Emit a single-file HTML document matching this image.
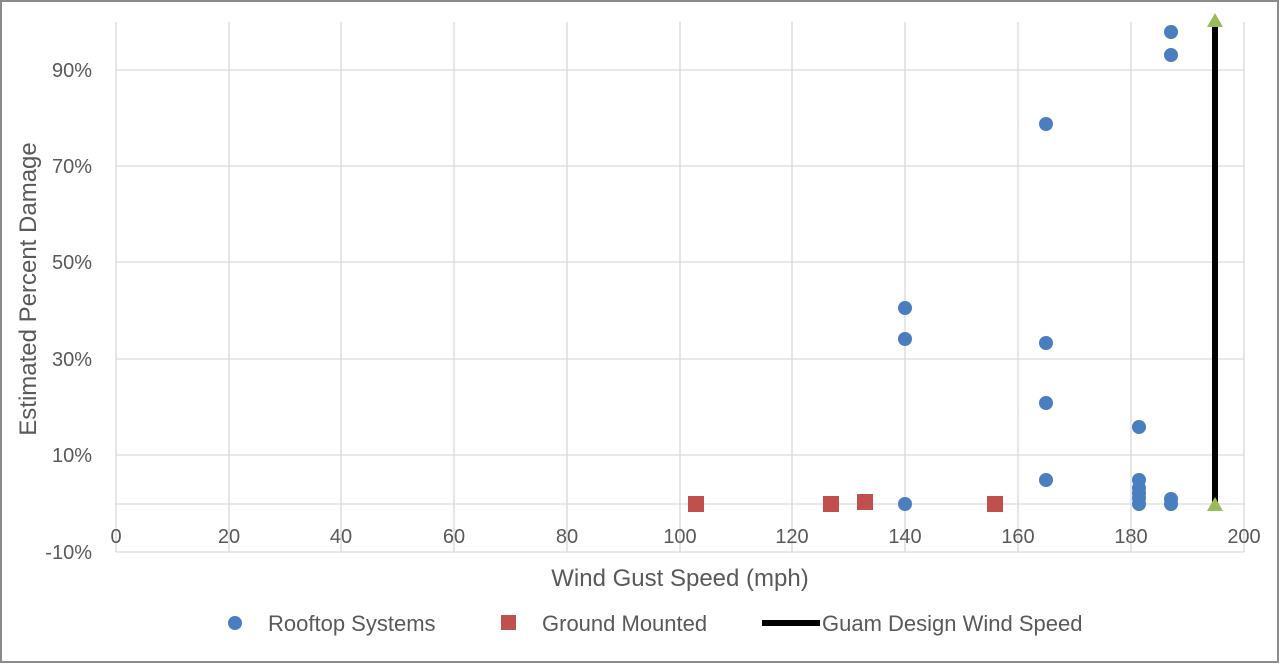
<!DOCTYPE html><html><head><style>body{margin:0;background:#fff}svg{display:block}text{font-family:"Liberation Sans",sans-serif;fill:#595959}</style></head><body>
<svg width="1280" height="664" viewBox="0 0 1280 664">
<rect x="1" y="1" width="1277" height="661" fill="#fff" stroke="#8c8c8c" stroke-width="2"/>
<g stroke="#d9d9d9" stroke-width="1.3">
<line x1="116" y1="70" x2="1244" y2="70"/><line x1="116" y1="166" x2="1244" y2="166"/><line x1="116" y1="262" x2="1244" y2="262"/><line x1="116" y1="359" x2="1244" y2="359"/><line x1="116" y1="455" x2="1244" y2="455"/><line x1="116" y1="504" x2="1244" y2="504"/><line x1="116" y1="552" x2="1244" y2="552"/>
<line x1="116" y1="22" x2="116" y2="552"/><line x1="229" y1="22" x2="229" y2="552"/><line x1="341" y1="22" x2="341" y2="552"/><line x1="454" y1="22" x2="454" y2="552"/><line x1="567" y1="22" x2="567" y2="552"/><line x1="680" y1="22" x2="680" y2="552"/><line x1="792" y1="22" x2="792" y2="552"/><line x1="905" y1="22" x2="905" y2="552"/><line x1="1018" y1="22" x2="1018" y2="552"/><line x1="1131" y1="22" x2="1131" y2="552"/><line x1="1244" y1="22" x2="1244" y2="552"/>
</g>
<g font-size="20" text-anchor="end"><text x="92" y="77">90%</text><text x="92" y="173">70%</text><text x="92" y="269">50%</text><text x="92" y="366">30%</text><text x="92" y="462">10%</text><text x="92" y="559">-10%</text></g>
<g font-size="20" text-anchor="middle"><text x="116" y="543">0</text><text x="229" y="543">20</text><text x="341" y="543">40</text><text x="454" y="543">60</text><text x="567" y="543">80</text><text x="680" y="543">100</text><text x="792" y="543">120</text><text x="905" y="543">140</text><text x="1018" y="543">160</text><text x="1131" y="543">180</text><text x="1244" y="543">200</text></g>
<text x="680" y="586" font-size="24" text-anchor="middle">Wind Gust Speed (mph)</text>
<text transform="translate(36,289) rotate(-90)" font-size="24" text-anchor="middle">Estimated Percent Damage</text>
<g fill="#4a7ebf">
<circle cx="905" cy="308" r="7"/><circle cx="905" cy="339" r="7"/><circle cx="905" cy="504" r="7"/>
<circle cx="1046" cy="124" r="7"/><circle cx="1046" cy="343" r="7"/><circle cx="1046" cy="403" r="7"/><circle cx="1046" cy="480" r="7"/>
<circle cx="1139" cy="427" r="7"/><circle cx="1139" cy="480" r="7"/><circle cx="1139" cy="488" r="7"/><circle cx="1139" cy="493" r="7"/><circle cx="1139" cy="498" r="7"/><circle cx="1139" cy="504" r="7"/>
<circle cx="1171" cy="32" r="7"/><circle cx="1171" cy="55" r="7"/><circle cx="1171" cy="499" r="7"/><circle cx="1171" cy="504" r="7"/>
<circle cx="235" cy="623" r="7"/></g>
<g fill="#c0504d"><rect x="688" y="496" width="16" height="16"/><rect x="823" y="496" width="16" height="16"/><rect x="857" y="494" width="16" height="16"/><rect x="987" y="496" width="16" height="16"/><rect x="501" y="615" width="15" height="15"/></g>
<line x1="1215" y1="22" x2="1215" y2="504" stroke="#000" stroke-width="6"/>
<g fill="#9bbb59"><polygon points="1215,13 1207,27 1223,27"/><polygon points="1215,497 1207,511 1223,511"/></g>
<line x1="762" y1="623" x2="820" y2="623" stroke="#000" stroke-width="6"/>
<g font-size="22"><text x="268" y="631">Rooftop Systems</text><text x="542" y="631">Ground Mounted</text><text x="822" y="631">Guam Design Wind Speed</text></g>
</svg></body></html>
